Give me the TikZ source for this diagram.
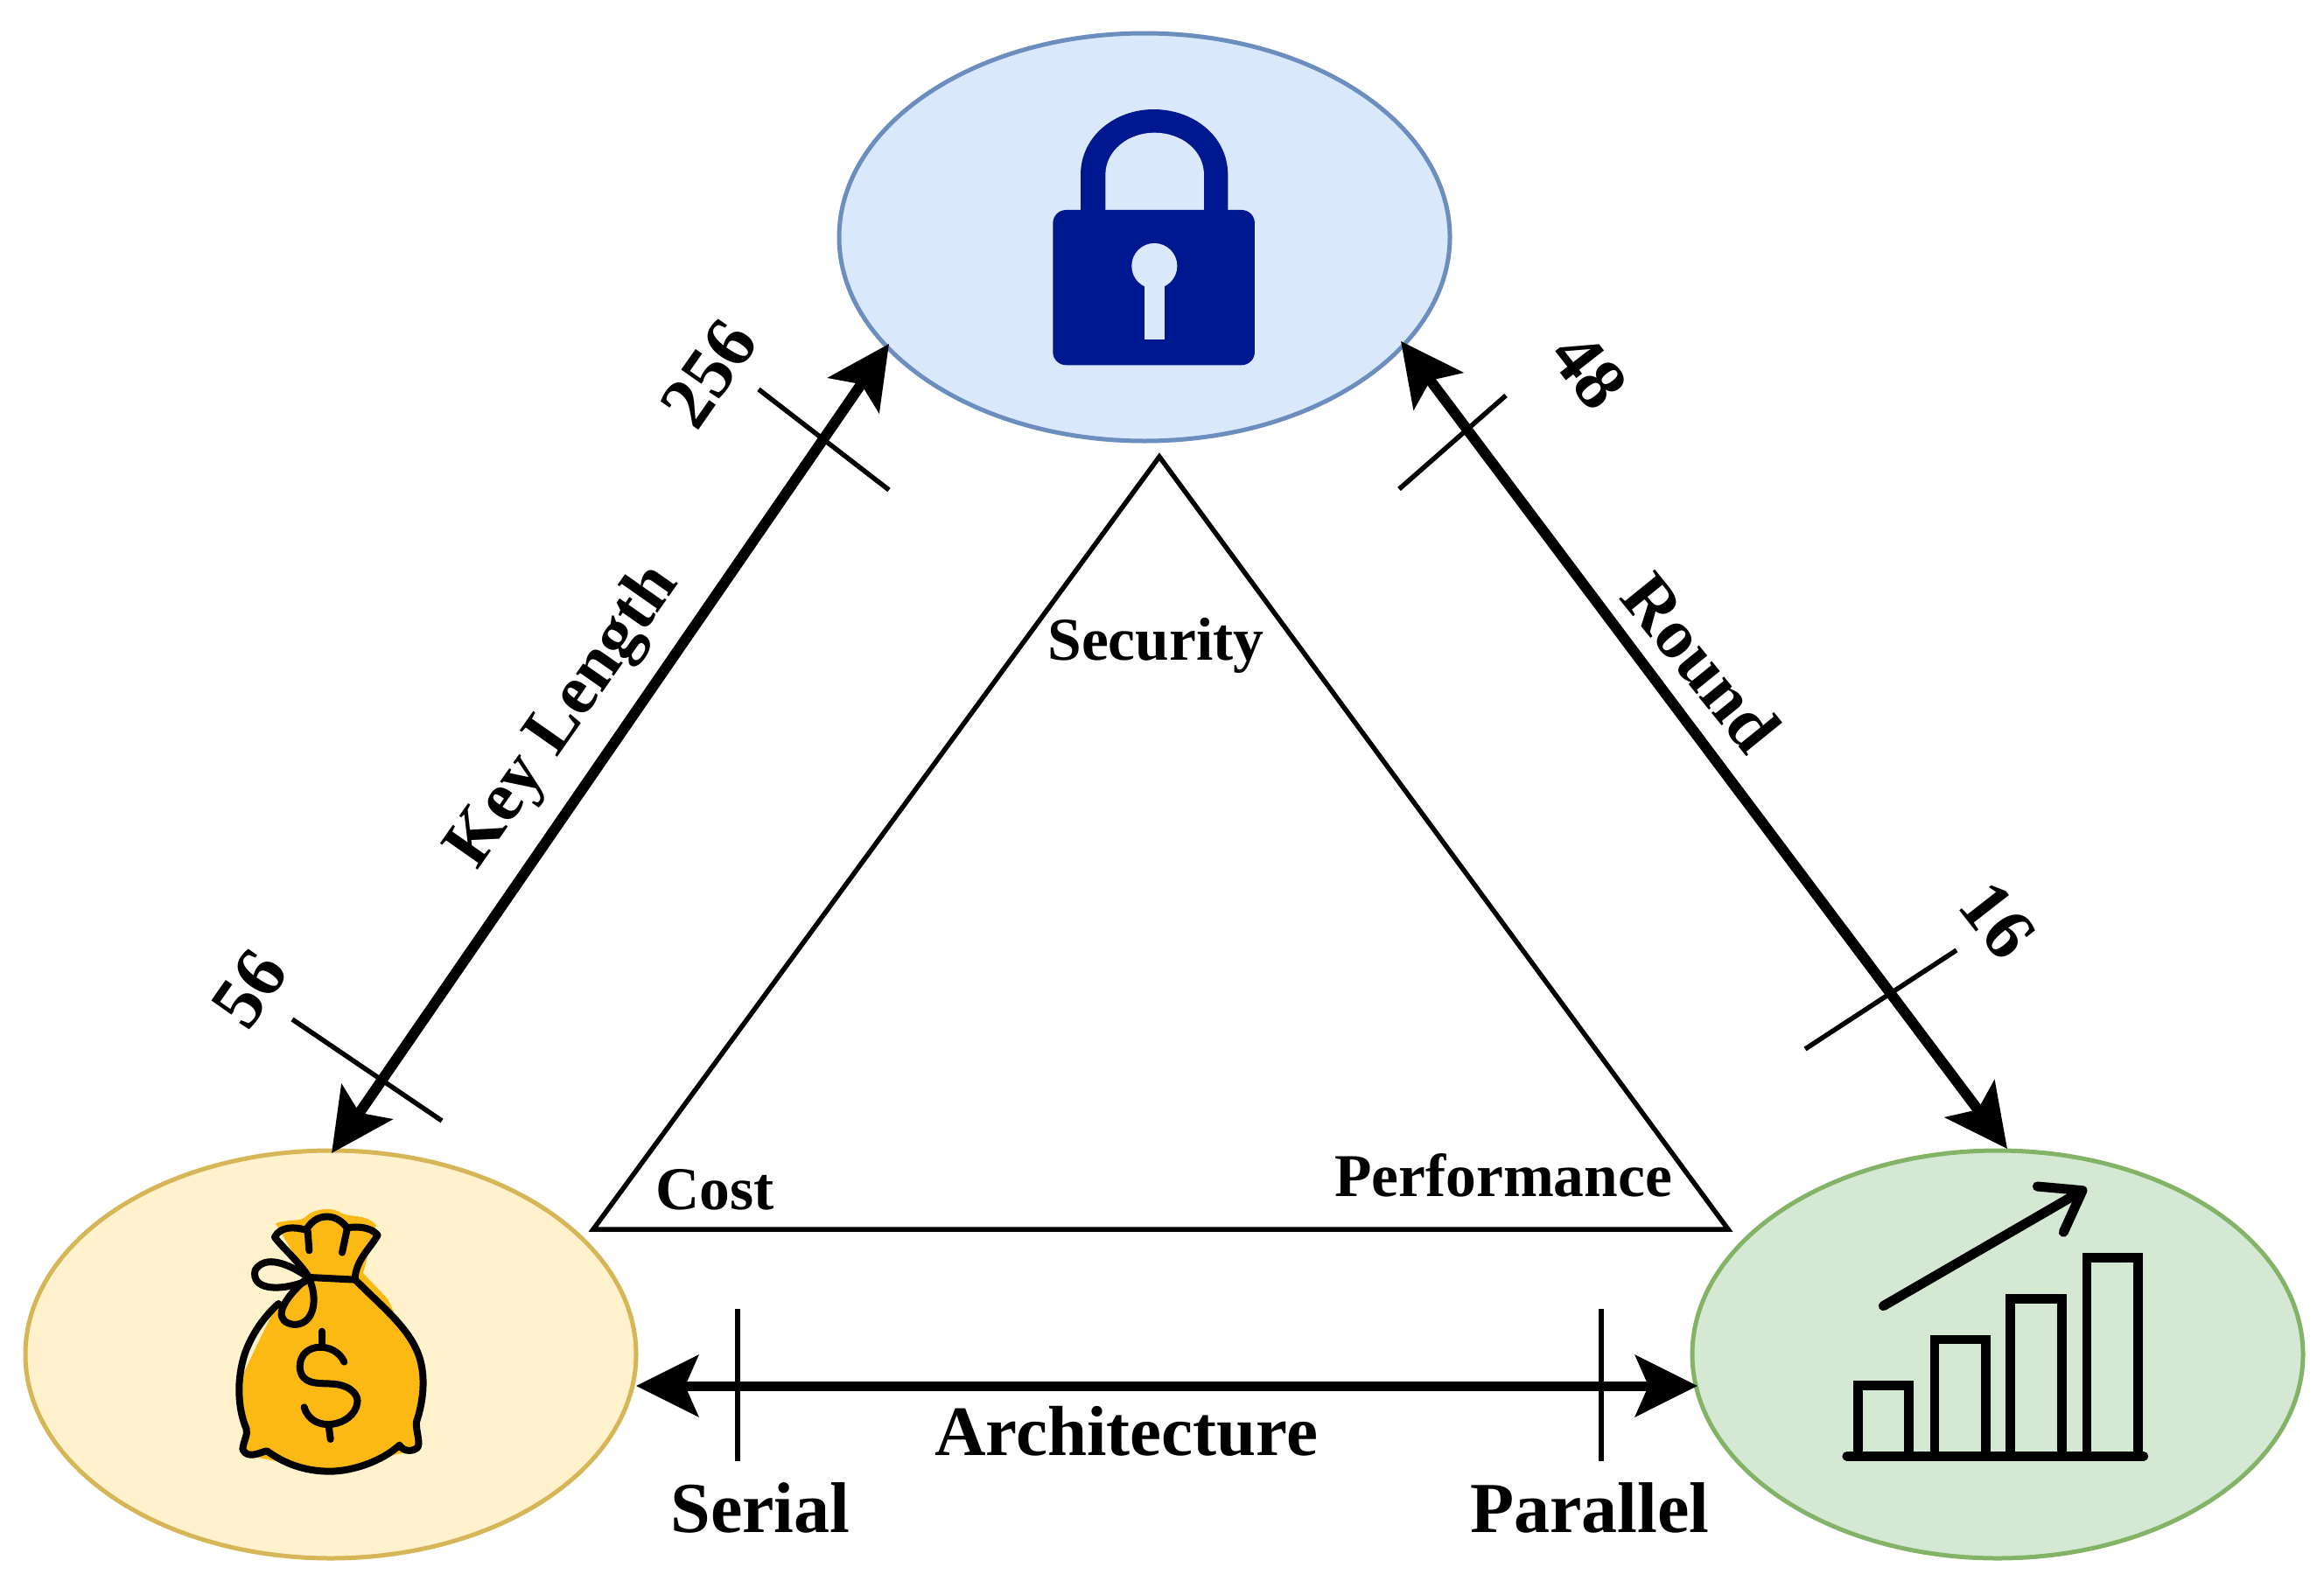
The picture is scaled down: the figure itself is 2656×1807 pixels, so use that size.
\documentclass[tikz,border=0pt]{standalone}
\usepackage{fontspec}
\setmainfont{Liberation Serif}
\usetikzlibrary{arrows.meta,shapes.geometric}
\definecolor{lockblue}{HTML}{00188F}
\definecolor{bagfill}{HTML}{FDB913}
\definecolor{secfill}{HTML}{DAE8FC}
\definecolor{secline}{HTML}{6C8EBF}
\definecolor{costfill}{HTML}{FFF2CC}
\definecolor{costline}{HTML}{D6B656}
\definecolor{perffill}{HTML}{D5E8D4}
\definecolor{perfline}{HTML}{82B366}
\tikzset{
  x=1pt,y=-1pt,
  blob/.style={ellipse,minimum width=698pt,minimum height=466pt,line width=5pt,inner sep=0pt},
  link/.style={line width=12pt,{Stealth[length=71pt,width=70pt,inset=15pt]}-{Stealth[length=71pt,width=70pt,inset=15pt]}},
  tick/.style={line width=5.5pt},
  big/.style={font=\fontsize{81}{81}\selectfont\bfseries,inner sep=0pt},
  numlab/.style={font=\fontsize{84}{84}\selectfont\bfseries,inner sep=0pt},
  small/.style={font=\fontsize{69.5}{69.5}\selectfont\bfseries,inner sep=0pt},
  ink/.style={line width=8pt,line cap=round,line join=round},
  barline/.style={line width=10.5pt,line join=miter}
}
\begin{document}
\begin{tikzpicture}
\useasboundingbox (0,0) rectangle (2656,1807);
\fill[white] (0,0) rectangle (2656,1807);
% ellipses
\node[blob,draw=secline,fill=secfill] (sec) at (1308,271) {};
\node[blob,draw=costline,fill=costfill] (cost) at (378,1548) {};
\node[blob,draw=perfline,fill=perffill] (perf) at (2283,1548) {};
% triangle
\coordinate (ta) at (1325,522);
\coordinate (tl) at (678,1405);
\coordinate (tr) at (1975,1405);
\draw[line width=5.5pt,line join=miter] (ta) -- (tl) -- (tr) -- cycle;
% arrows
\coordinate (k1) at (1016,393); \coordinate (k2) at (379,1318);
\coordinate (r1) at (1601,390); \coordinate (r2) at (2294,1313);
\coordinate (a1) at (727,1584); \coordinate (a2) at (1940,1584);
\draw[link] (k1) -- (k2);
\draw[link] (r1) -- (r2);
\draw[link,line width=11pt] (a1) -- (a2);
% ticks
\coordinate (t1a) at (867,445); \coordinate (t1b) at (1016,560);
\coordinate (t2a) at (334,1165); \coordinate (t2b) at (505,1281);
\coordinate (t3a) at (1721,452); \coordinate (t3b) at (1599,559);
\coordinate (t4a) at (2236,1086); \coordinate (t4b) at (2063,1199);
\coordinate (t5a) at (843,1496); \coordinate (t5b) at (843,1670);
\coordinate (t6a) at (1830,1496); \coordinate (t6b) at (1830,1670);
\foreach \i in {1,...,6} \draw[tick] (t\i a) -- (t\i b);
% labels
\node[big,font=\fontsize{80}{80}\selectfont\bfseries,anchor=base,rotate=55] (lk) at (661,831) {Key Length};
\node[big,rotate=-51] (lr) at (1945,757) {Round};
\node[numlab,rotate=55] (l256) at (810,427) {256};
\node[numlab,rotate=55] (l56) at (285,1130) {56};
\node[numlab,rotate=-52] (l48) at (1816,424) {48};
\node[numlab,rotate=-52] (l16) at (2283,1052) {16};
\node[small] (ls) at (1321,738) {Security};
\node[small] (lc) at (817,1360) {Cost};
\node[small] (lp) at (1718,1343) {Performance};
\node[big] (la) at (1287,1636) {Architecture};
\node[big,font=\fontsize{82}{82}\selectfont\bfseries] (lse) at (869,1723) {Serial};
\node[big,font=\fontsize{82}{82}\selectfont\bfseries] (lpa) at (1817,1723) {Parallel};
% lock
\begin{scope}[shift={(1150,100)},x=.3333pt,y=-.3333pt]
\fill[lockblue] (255,430) -- (255,300) .. controls (255,165) and (375,75) .. (505,75) .. controls (640,75) and (760,165) .. (760,300) -- (760,430) -- cycle;
\fill[secfill] (340,430) -- (340,300) .. controls (340,215) and (420,155) .. (508,155) .. controls (600,155) and (678,215) .. (678,300) -- (678,430) -- cycle;
\fill[lockblue,rounded corners=15pt] (160,420) rectangle (852,952);
\fill[secfill] (508,612) circle[radius=78];
\fill[secfill] (475,640) rectangle (542,865);
\end{scope}
% money bag
\begin{scope}[shift={(240,1370)},x=.3333pt,y=-.3333pt]
\fill[bagfill] (225,85) .. controls (260,70) and (300,80) .. (325,65) .. controls (350,35) and (420,25) .. (450,50) .. controls (480,65) and (530,50) .. (570,90) -- (525,255) -- (610,345) -- (650,430) -- (715,540) -- (725,650) -- (710,860) -- (400,935) -- (125,880) -- (105,620) -- (225,370) -- (340,280) -- cycle;
\draw[ink] (500,280) .. controls (600,380) and (690,450) .. (720,550) .. controls (740,620) and (730,700) .. (708,765) .. controls (705,800) and (725,840) .. (710,855) .. controls (690,870) and (660,865) .. (650,845) .. controls (590,900) and (490,935) .. (410,935) .. controls (320,935) and (250,905) .. (195,865) .. controls (170,870) and (130,895) .. (112,860) .. controls (115,830) and (130,810) .. (125,790) .. controls (95,720) and (90,620) .. (120,530) .. controls (145,460) and (190,400) .. (235,360);
\draw[ink] (340,270) -- (500,278);
\draw[ink] (340,270) .. controls (300,210) and (250,170) .. (222,132) .. controls (240,95) and (290,95) .. (330,108) .. controls (360,50) and (430,45) .. (470,100) .. controls (500,95) and (550,95) .. (575,125) .. controls (550,170) and (500,210) .. (497,275);
\draw[ink] (335,110) -- (340,178);
\draw[ink] (470,105) -- (453,185);
\draw[ink] (330,265) .. controls (270,225) and (190,190) .. (155,245) .. controls (140,310) and (230,320) .. (325,285);
\draw[ink] (340,275) .. controls (370,340) and (360,430) .. (290,432) .. controls (225,425) and (225,370) .. (325,280);
\draw[ink] (383,455) -- (383,500);
\draw[ink] (460,560) .. controls (430,490) and (310,490) .. (308,575) .. controls (310,640) and (370,632) .. (420,635) .. controls (490,640) and (510,680) .. (505,700) .. controls (495,780) and (350,810) .. (323,715);
\draw[ink] (408,785) -- (413,825);
\end{scope}
% chart
\begin{scope}[shift={(2080,1320)},x=.3333pt,y=-.3333pt]
\draw[barline] (130,1033) -- (130,790) -- (305,790) -- (305,1033);
\draw[barline] (393,1033) -- (393,633) -- (568,633) -- (568,1033);
\draw[barline] (653,1033) -- (653,493) -- (830,493) -- (830,1033);
\draw[barline] (915,1033) -- (915,353) -- (1090,353) -- (1090,1033);
\draw[line width=10.5pt,line cap=round] (92,1033) -- (1110,1033);
\draw[line width=11pt,line cap=round,line join=round] (217,518) -- (895,125);
\draw[line width=11pt,line cap=round,line join=round] (745,108) -- (900,122) -- (835,265);
\end{scope}
\end{tikzpicture}
\end{document}
